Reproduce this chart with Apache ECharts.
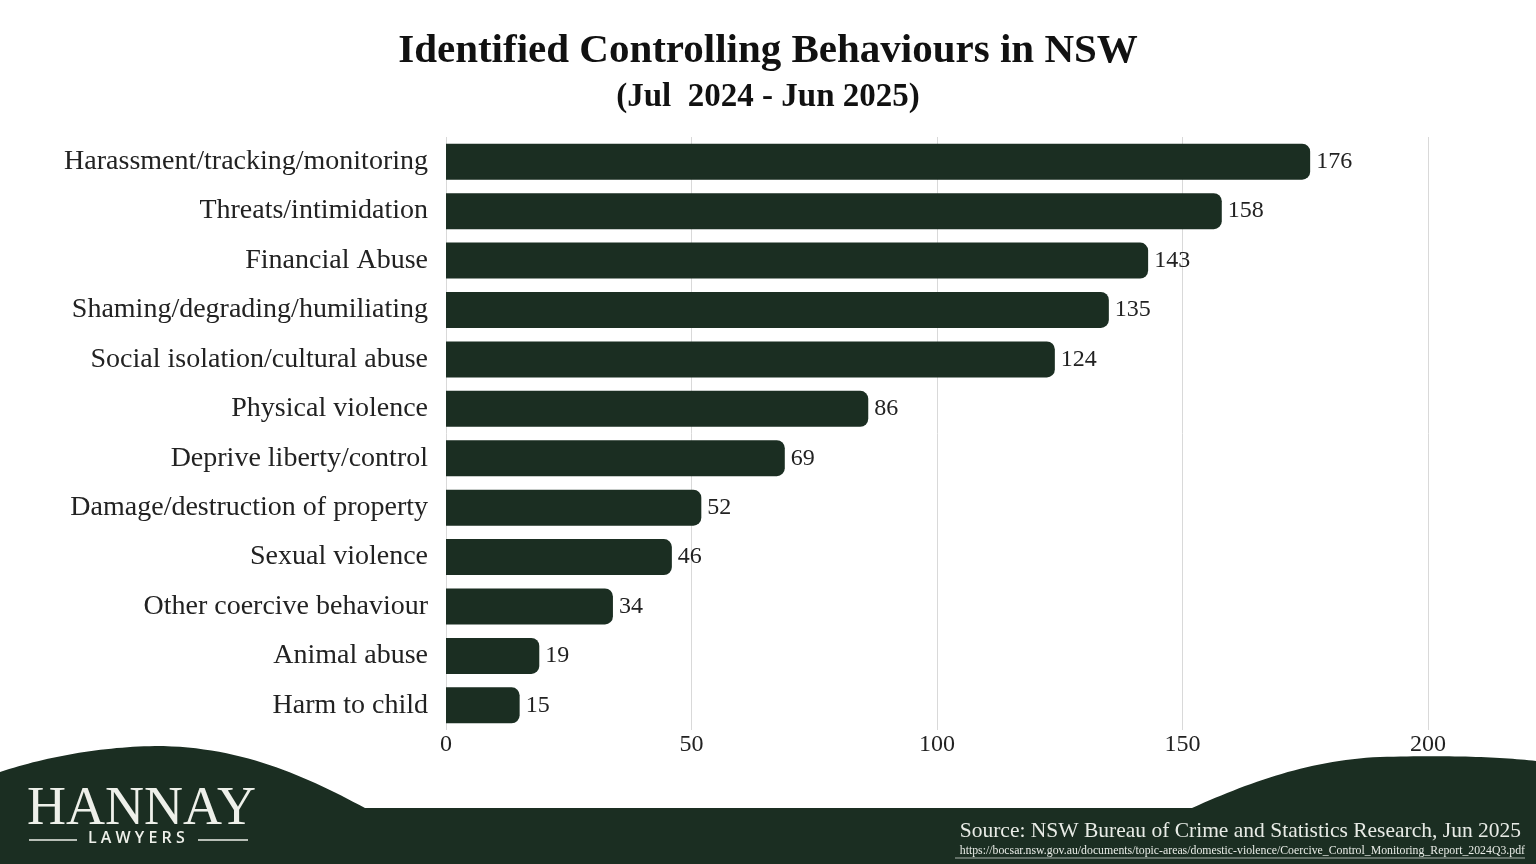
<!DOCTYPE html>
<html>
<head>
<meta charset="utf-8">
<script src="https://cdn.jsdelivr.net/npm/echarts@6/dist/echarts.min.js"></script>
<style>html,body{margin:0;padding:0;background:#fff}#c{width:1536px;height:864px}</style>
</head>
<body>
<div id="c"></div>
<script>
const categories = ["Harassment/tracking/monitoring","Threats/intimidation","Financial Abuse","Shaming/degrading/humiliating","Social isolation/cultural abuse","Physical violence","Deprive liberty/control","Damage/destruction of property","Sexual violence","Other coercive behaviour","Animal abuse","Harm to child"];
const values = [176,158,143,135,124,86,69,52,46,34,19,15];
const xTicks = [0,50,100,150,200];
const titleText = "Identified Controlling Behaviours in NSW";
const subtitleText = "(Jul  2024 - Jun 2025)";
const sourceText = "Source: NSW Bureau of Crime and Statistics Research, Jun 2025";
const urlText = "https://bocsar.nsw.gov.au/documents/topic-areas/domestic-violence/Coercive_Control_Monitoring_Report_2024Q3.pdf";

const GREEN = '#1b2e22';
const SERIF = '"Liberation Serif", "DejaVu Serif", serif';

// decorative footer shape (sampled cubic beziers)
function cubic(p0,p1,p2,p3,n){const pts=[];for(let i=0;i<=n;i++){const t=i/n,u=1-t;
  pts.push([u*u*u*p0[0]+3*u*u*t*p1[0]+3*u*t*t*p2[0]+t*t*t*p3[0],u*u*u*p0[1]+3*u*u*t*p1[1]+3*u*t*t*p2[1]+t*t*t*p3[1]]);}return pts;}
let footer=[[0,864],[0,772]];
footer=footer.concat(cubic([0,772],[45,757],[100,747],[155,746],30));
footer=footer.concat(cubic([155,746],[240,746],[305,776],[365,808],30));
footer.push([1192,808]);
footer=footer.concat(cubic([1192,808],[1250,782],[1310,760],[1380,757],30));
footer=footer.concat(cubic([1380,757],[1450,755],[1500,757],[1536,761],30));
footer.push([1536,864]);

const chart = echarts.init(document.getElementById('c'), null, {renderer:'canvas'});
chart.setOption({
  backgroundColor:'#fff',
  animation:false,
  title:[
    {text:titleText,left:'center',top:26,textStyle:{fontFamily:SERIF,fontSize:41,fontWeight:'bold',color:'#111'}},
    {text:subtitleText,left:'center',top:76,textStyle:{fontFamily:SERIF,fontSize:33,fontWeight:'bold',color:'#111'}}
  ],
  grid:{left:446,top:137,width:982,height:593,containLabel:false},
  xAxis:{type:'value',min:0,max:200,interval:50,
    axisLine:{show:false},axisTick:{show:false},
    axisLabel:{fontFamily:SERIF,fontSize:24,color:'#222',margin:3,
      formatter:v=>xTicks.includes(v)?String(v):''},
    splitLine:{show:true,lineStyle:{color:'#d9d9d9',width:1}}},
  yAxis:{type:'category',data:categories,inverse:true,
    axisLine:{show:false},axisTick:{show:false},
    axisLabel:{fontFamily:SERIF,fontSize:28,color:'#222',margin:18,padding:[4,0,0,0]}},
  series:[{type:'bar',data:values,barWidth:36,
    itemStyle:{color:GREEN,borderRadius:[0,8,8,0]},
    label:{show:true,position:'right',distance:6,fontFamily:SERIF,fontSize:24,color:'#222',padding:[4,0,0,0]}}],
  graphic:[
    {type:'polygon',silent:true,shape:{points:footer},style:{fill:GREEN}},
    {type:'text',left:27,top:783,style:{text:'HANNAY',font:'54px '+SERIF,fill:'#eef0ea'}},
    {type:'text',left:88,top:830,style:{text:'L A W Y E R S',font:'600 16px "Open Sans", sans-serif',fill:'#eef0ea'}},
    {type:'line',shape:{x1:29,y1:840,x2:77,y2:840},style:{stroke:'#eef0ea',lineWidth:1.5}},
    {type:'line',shape:{x1:198,y1:840,x2:248,y2:840},style:{stroke:'#eef0ea',lineWidth:1.5}},
    {type:'text',right:15,top:820,style:{text:sourceText,font:'21.5px '+SERIF,fill:'#e8ebe6'}},
    {type:'text',right:11,top:845,style:{text:urlText,font:'11.8px '+SERIF,fill:'#e8ebe6'}},
    {type:'line',shape:{x1:955,y1:858,x2:1525,y2:858},style:{stroke:'#e8ebe6',lineWidth:0.7}}
  ]
});
</script>
</body>
</html>
